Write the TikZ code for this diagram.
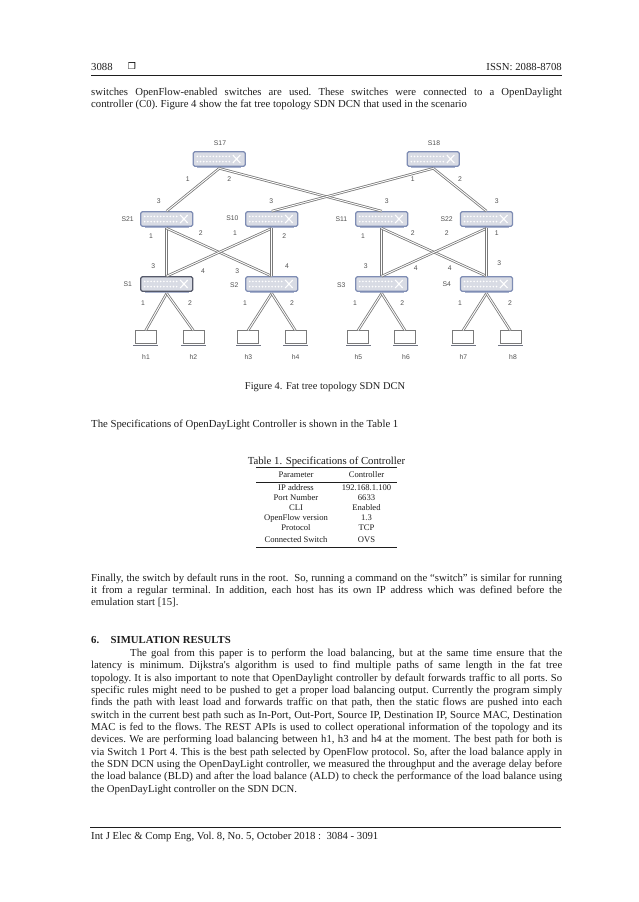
\documentclass[tikz,border=0pt]{standalone}
\usepackage{fontspec}
\setmainfont{Liberation Serif}
\newfontfamily\figsans{Liberation Sans}
\newfontfamily\dvsans{DejaVu Sans}
\definecolor{swborder}{HTML}{7F8DB4}
\definecolor{swdark}{HTML}{55596A}
\definecolor{swfill}{HTML}{D8DBE4}
\definecolor{swledge}{HTML}{A9B3CE}
\definecolor{linkgray}{HTML}{7A7A7A}
\definecolor{figtext}{HTML}{505050}
\definecolor{bodytext}{HTML}{1E1E1E}
\tikzset{
  swnode/.style={draw=swborder,fill=swfill,line width=1.2pt,rounded corners=1.5pt,minimum width=52pt,minimum height=14.5pt,inner sep=0pt},
  link/.style={draw=linkgray,double=white,double distance=.9pt,line width=.8pt},
  pclabel/.style={draw=linkgray,fill=white,line width=.6pt,minimum width=21pt,minimum height=12.5pt,inner sep=0pt},
  figlabel/.style={font=\figsans\fontsize{6.8}{7}\selectfont,text=figtext,inner sep=0pt},
  bodyline/.style={anchor=base west,inner sep=0pt,text=bodytext,font=\frenchspacing\fontsize{10.72}{12.34}\selectfont},
  tabtext/.style={inner sep=0pt,anchor=base,text=bodytext,font=\fontsize{8.6}{10}\selectfont},
  rulel/.style={draw=bodytext,line width=#1},
}
\newcommand{\swbox}[4][swborder]{%
  \fill[swledge] (#3-22,#4+7) rectangle (#3+22,#4+9);
  \node[swnode,draw=#1] (#2) at (#3,#4) {};
  \begin{scope}[shift={(#3,#4)}]
    \foreach \kk in {0,...,10}{
      \fill[white] (-22+3.2*\kk,-2.6) circle (.9pt);
      \fill[white] (-22+3.2*\kk,2.6) circle (.9pt);
    }
    \draw[white,line width=1.1pt] (13.5,-4) -- (21,4) (13.5,4) -- (21,-4);
  \end{scope}
}
\newcommand{\hostbox}[3]{%
  \node[pclabel] (#1) at (#2,#3) {};
  \fill[swdark!85] (#2-12.5,#3+7.5) rectangle (#2+12.5,#3+9.2);
}
\begin{document}
\begin{tikzpicture}[x=1pt,y=-1pt]
\useasboundingbox (0,0) rectangle (638,902);
\fill[white] (0,0) rectangle (638,902);
% header
\node[bodyline] (pg) at (91,70) {3088};
\node[inner sep=0pt,font=\dvsans\fontsize{9}{10}\selectfont] (sq) at (132,66) {❒};
\node[bodyline,anchor=base east] (issn) at (562,70) {ISSN: 2088-8708};
\draw[rulel=1pt] (91,75.5) coordinate (hl) -- (562,75.5) coordinate (hr);
% first paragraph
\node[bodyline] (para1) at (91,95) {\parbox[t]{471pt}{\fontsize{10.72}{12.6}\selectfont
switches OpenFlow-enabled switches are used. These switches were connected to a OpenDaylight\linebreak
controller (C0). Figure 4 show the fat tree topology SDN DCN that used in the scenario}};
% switches
\swbox{S17}{219.3}{159}
\swbox{S18}{433.3}{159}
\swbox{S21}{166.7}{219}
\swbox{S10}{271.7}{219}
\swbox{S11}{381.7}{219}
\swbox{S22}{486.5}{219}
\swbox[swdark]{S1}{166.7}{284}
\swbox{S2}{271.7}{284}
\swbox{S3}{381.7}{284}
\swbox{S4}{486.5}{284}
% hosts
\hostbox{h1}{145.7}{337}
\hostbox{h2}{193.3}{337}
\hostbox{h3}{248}{337}
\hostbox{h4}{295.3}{337}
\hostbox{h5}{358}{337}
\hostbox{h6}{405}{337}
\hostbox{h7}{463}{337}
\hostbox{h8}{510.3}{337}
% connectors
\foreach \aa/\bb in {S17/S21,S17/S11,S18/S10,S18/S22,S21/S1,S21/S2,S10/S1,S10/S2,S11/S3,S11/S4,S22/S3,S22/S4,S1/h1,S1/h2,S2/h3,S2/h4,S3/h5,S3/h6,S4/h7,S4/h8}{
  \draw[link] ([yshift=-1.5pt]\aa.south) -- (\bb.north);
}
% switch and host labels
\foreach \nx/\ny/\tx in {220/142.7/S17,434/142.7/S18,127.7/219.3/S21,232.3/218.5/S10,341.3/219.3/S11,446.7/218.7/S22,127.7/284.3/S1,234.3/285/S2,341.3/285/S3,446.7/284.3/S4,146/357.3/h1,193.3/357.3/h2,248.3/357.3/h3,295.7/357.3/h4,358.3/357.3/h5,406/357.3/h6,463.3/357.3/h7,513/357.3/h8}{
  \node[figlabel] (lab\tx) at (\nx,\ny) {\tx};
}
% port numbers
\foreach \nx/\ny/\tx [count=\ii] in {187.7/179.3/1,229.3/179.3/2,158.7/200.7/3,271.3/200.7/3,151/235.7/1,200.7/233.3/2,235/233.3/1,284.3/236/2,153.3/265.7/3,203/271.3/4,237.3/271.3/3,287/265.7/4,143/303.3/1,190/303.3/2,245/303.3/1,292/303.3/2,412.7/179.3/1,460/179.3/2,386.7/200.7/3,496.7/200.7/3,363/236/1,412.7/233.3/2,446.7/233.3/2,496.7/233.3/1,365.7/265.7/3,415.7/268.3/4,449.7/268.3/4,499.3/263.3/3,355/303.3/1,402.3/303.3/2,460/303.3/1,510/303.3/2}{
  \node[figlabel] (port\ii) at (\nx,\ny) {\tx};
}
% caption
\node[bodyline,anchor=base,font=\fontsize{10.4}{12}\selectfont] (cap) at (325,389.5) {Figure 4. Fat tree topology SDN DCN};
\node[bodyline] (spec) at (91,427.5) {The Specifications of OpenDayLight Controller is shown in the Table 1};
% table
\node[bodyline,anchor=base,font=\fontsize{10.75}{12}\selectfont] (tabtitle) at (326.5,464.5) {Table 1. Specifications of Controller};
\draw[rulel=.7pt] (256,467.3) -- (397,467.3);
\draw[rulel=1pt] (256,482) -- (397,482);
\draw[rulel=.8pt] (256,547) -- (397,547);
\foreach \ya/\ca/\cb [count=\ii] in {477.5/Parameter/Controller,490/IP address/192.168.1.100,500/Port Number/6633,510/CLI/Enabled,520/OpenFlow version/1.3,530/Protocol/TCP,542/Connected Switch/OVS}{
  \node[tabtext] (ta\ii) at (296,\ya) {\ca};
  \node[tabtext] (tb\ii) at (366.5,\ya) {\cb};
}
% second paragraph
\node[bodyline] (para2) at (91,581) {\parbox[t]{471pt}{\fontsize{10.72}{12.4}\selectfont
Finally, the switch by default runs in the root.\ \ So, running a command on the “switch” is similar for running\linebreak
it from a regular terminal. In addition, each host has its own IP address which was defined before the\linebreak
emulation start [15].}};
% section
\node[bodyline,font=\bfseries\fontsize{10.72}{12.34}\selectfont] (sec) at (91,643) {6.};
\node[bodyline,font=\bfseries\fontsize{10.72}{12.34}\selectfont] (sect) at (110.5,643) {SIMULATION RESULTS};
\node[bodyline] (para3) at (91,656.5) {\parbox[t]{471pt}{\fontsize{10.72}{12.34}\selectfont\parindent=39pt\indent
The goal from this paper is to perform the load balancing, but at the same time ensure that the\linebreak
latency is minimum. Dijkstra\textquotesingle s algorithm is used to find multiple paths of same length in the fat tree\linebreak
topology. It is also important to note that OpenDaylight controller by default forwards traffic to all ports. So\linebreak
specific rules might need to be pushed to get a proper load balancing output. Currently the program simply\linebreak
finds the path with least load and forwards traffic on that path, then the static flows are pushed into each\linebreak
switch in the current best path such as In-Port, Out-Port, Source IP, Destination IP, Source MAC, Destination\linebreak
MAC is fed to the flows. The REST APIs is used to collect operational information of the topology and its\linebreak
devices. We are performing load balancing between h1, h3 and h4 at the moment. The best path for both is\linebreak
via Switch 1 Port 4. This is the best path selected by OpenFlow protocol. So, after the load balance apply in\linebreak
the SDN DCN using the OpenDayLight controller, we measured the throughput and the average delay before\linebreak
the load balance (BLD) and after the load balance (ALD) to check the performance of the load balance using\linebreak
the OpenDayLight controller on the SDN DCN.}};
% footer
\draw[rulel=.8pt] (90,827.7) coordinate (fl) -- (561,827.7) coordinate (fr);
\node[bodyline] (foot) at (91,839) {Int J Elec \& Comp Eng, Vol. 8, No. 5, October 2018 :\ \ 3084 - 3091};
\end{tikzpicture}
\end{document}
